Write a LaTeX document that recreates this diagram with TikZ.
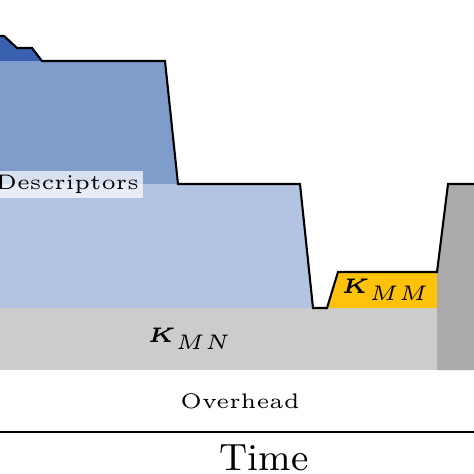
\documentclass[tikz,border=0pt]{standalone}
\usepackage{amsmath}
\usetikzlibrary{positioning}
\definecolor{blueDark}{HTML}{3A60B0}
\definecolor{blueMid}{HTML}{7F9CCB}
\definecolor{blueLight}{HTML}{B3C3E2}
\definecolor{grayLight}{HTML}{CCCCCC}
\definecolor{grayDark}{HTML}{AAAAAA}
\definecolor{kmmYellow}{HTML}{FFC20A}

\begin{document}
\begin{tikzpicture}[x=0.02cm, y=-0.02cm,
    envelope/.style={draw=black, line width=1.2pt, line join=miter},
    textlabel/.style={font=\tiny, scale=2.4, inner sep=1pt},
  ]
  \useasboundingbox (0,0) rectangle (474,474);

  % Areas
  \fill[blueDark] (0,36) -- (4,36) -- (17,48) -- (32,48) -- (42,61) -- (0,61) -- cycle;
  \fill[blueMid] (0,61) -- (165,61) -- (178,184) -- (0,184) -- cycle;
  \fill[blueLight] (0,184) -- (300,184) -- (313,308) -- (0,308) -- cycle;
  \fill[grayLight] (0,308) rectangle (437,370);
  \fill[kmmYellow] (327,308) -- (338,272) -- (437,272) -- (437,308) -- cycle;
  \fill[grayDark] (437,272) -- (448,184) -- (474,184) -- (474,370) -- (437,370) -- cycle;

  % Outline
  \draw[envelope] (0,36) -- (4,36) -- (17,48) -- (32,48) -- (42,61) -- (165,61)
    -- (178,184) -- (300,184) -- (313,308) -- (327,308) -- (338,272)
    -- (437,272) -- (448,184) -- (474,184);

  % Labels
  \node[textlabel, anchor=east, fill=white, fill opacity=0.7, text opacity=1]
    (descriptors) at (144,184.5) {Descriptors};
  \node[textlabel, anchor=base] (kmn) at (190,342) {$\boldsymbol{K}_{MN}$};
  \node[textlabel, anchor=base] (kmm) at (386,293) {$\boldsymbol{K}_{MM}$};
  \node[textlabel, anchor=base] (overhead) at (240,408.5) {Overhead};

  % Axis
  \coordinate (axisL) at (0,432);
  \coordinate (axisR) at (474,432);
  \draw[line width=0.9pt] (axisL) -- (axisR);
  \node[textlabel, font=\small, anchor=base] (timelabel) at (264,470) {Time};
\end{tikzpicture}
\end{document}
